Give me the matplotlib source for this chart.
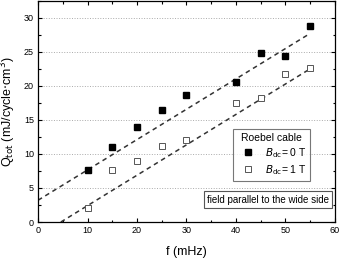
import numpy as np
import matplotlib.pyplot as plt
from matplotlib.ticker import MultipleLocator

f_mhz = [10, 15, 20, 25, 30, 40, 45, 50, 55]
q_0t = [7.7, 11.0, 14.0, 16.4, 18.7, 20.5, 24.8, 24.4, 28.8]
q_1t = [2.0, 7.7, 8.9, 11.1, 12.1, 17.5, 18.2, 21.7, 22.6]

# linear fits: (intercept, slope, x start, x end)
fit_0t = (3.2, 0.445, 0, 55)
fit_1t = (-2.05, 0.446, 4.6, 55)

plt.rcParams["font.family"] = "Liberation Sans"

fig = plt.figure(figsize=(3.4, 2.6), dpi=100)
ax = fig.add_axes([0.112, 0.146, 0.873, 0.852])

for a, b, x0, x1 in (fit_0t, fit_1t):
    xs = np.array([x0, x1])
    ax.plot(xs, a + b * xs, ls=(0, (3, 2.5)), color="#333333", lw=1.1, zorder=2)

h0, = ax.plot(f_mhz, q_0t, "s", ms=4, color="black", ls="none", zorder=3)
h1, = ax.plot(f_mhz, q_1t, "s", ms=4, mfc="white", mec="#555555", mew=0.7,
              ls="none", zorder=3)

ax.set_xlim(0, 60)
ax.set_ylim(0, 32.5)
ax.xaxis.set_major_locator(MultipleLocator(10))
ax.xaxis.set_minor_locator(MultipleLocator(5))
ax.yaxis.set_major_locator(MultipleLocator(5))
ax.yaxis.set_minor_locator(MultipleLocator(2.5))
ax.tick_params(which="both", direction="in", top=True, right=True, labelsize=6.5,
               width=0.8, pad=3)
ax.tick_params(which="major", length=3)
ax.tick_params(which="minor", length=1.8)
ax.grid(axis="y", which="major", ls=":", color="#aaaaaa", lw=0.7)
for s in ax.spines.values():
    s.set_linewidth(0.9)

ax.set_xlabel("f (mHz)", fontsize=9, labelpad=8)
ax.set_ylabel(r"Q$_{\rm tot}$ (mJ/cycle$\cdot$cm$^3$)", fontsize=9, labelpad=4)

leg = ax.legend([h0, h1], [r"$B_{\rm dc}$= 0 T", r"$B_{\rm dc}$= 1 T"],
                title="Roebel cable", fontsize=7.5, title_fontsize=7.5,
                loc="upper left", bbox_to_anchor=(0.64, 0.445),
                frameon=True, fancybox=False, edgecolor="#555555",
                handletextpad=0.6, borderpad=0.4, labelspacing=0.3)
leg.get_frame().set_linewidth(0.8)

ax.text(0.98, 0.1, "field parallel to the wide side", transform=ax.transAxes,
        fontsize=7, ha="right", va="center",
        bbox=dict(boxstyle="square,pad=0.35", fc="white", ec="#555555", lw=0.8))

fig.savefig("out.png", dpi=100)
